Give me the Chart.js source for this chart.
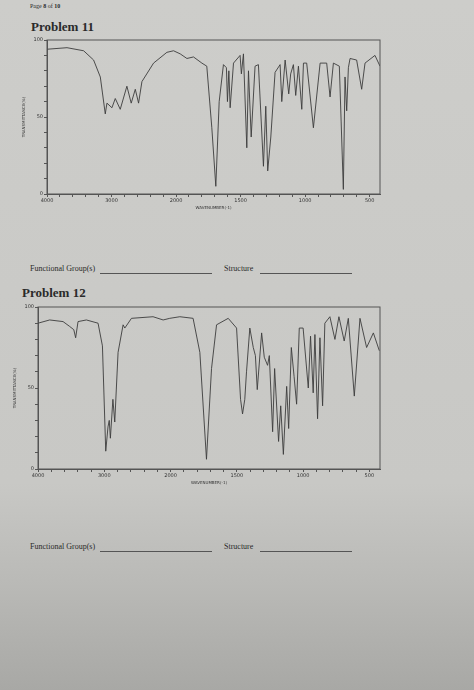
<!DOCTYPE html>
<html>
<head>
<meta charset="utf-8">
<script src="https://cdn.jsdelivr.net/npm/chart.js@4.4.0/dist/chart.umd.min.js"></script>
<style>
  body { margin:0; width:474px; height:690px; overflow:hidden; position:relative;
    background: linear-gradient(180deg, #cdcdca 0%, #c8c8c5 70%, #b9b9b6 85%, #a8a8a5 100%);
    font-family: "Liberation Serif", serif; color:#2a2a2a; }
  .t { position:absolute; white-space:nowrap; }
  .box { position:absolute; }
  .line { position:absolute; border-bottom:1px solid #555; height:0; }
</style>
</head>
<body>
<div class="t" style="left:30px;top:3px;font-size:6px;">Page <b>8</b> of <b>10</b></div>
<div class="t" style="left:31px;top:19px;font-size:13px;font-weight:bold;">Problem 11</div>
<div class="box" style="left:22px;top:30px;width:363px;height:180px;"><canvas id="c1"></canvas></div>
<div class="t" style="left:30px;top:264px;font-size:8px;">Functional Group(s)</div>
<div class="line" style="left:100px;top:273px;width:112px;"></div>
<div class="t" style="left:224px;top:264px;font-size:8px;">Structure</div>
<div class="line" style="left:260px;top:273px;width:92px;"></div>

<div class="t" style="left:22px;top:285px;font-size:13px;font-weight:bold;">Problem 12</div>
<div class="box" style="left:13px;top:297px;width:372px;height:188px;"><canvas id="c2"></canvas></div>
<div class="t" style="left:30px;top:542px;font-size:8px;">Functional Group(s)</div>
<div class="line" style="left:100px;top:551px;width:112px;"></div>
<div class="t" style="left:224px;top:542px;font-size:8px;">Structure</div>
<div class="line" style="left:260px;top:551px;width:92px;"></div>

<script>
// Problem 11 spectrum (wavenumber cm-1, %T)
var wn11 = [4000,3690,3432,3278,3174,3097,3071,2994,2942,2865,2762,2695,2632,2581,2529,2349,2142,2039,1968,1916,1865,1800,1762,1723,1692,1666,1633,1610,1602,1591,1581,1555,1504,1494,1478,1452,1439,1418,1388,1362,1323,1305,1290,1266,1233,1194,1181,1155,1127,1112,1091,1073,1052,1026,1013,988,936,884,833,807,781,735,704,691,678,665,652,601,562,536,459,420];
var t11  = [94,95,93,87,76,52,59,56,62,55,70,59,68,59,73,85,92,93,91,88,89,85,83,43,5,60,84,82,60,80,56,85,90,78,91,30,80,37,83,84,18,57,15,37,79,84,60,87,65,78,84,64,83,55,85,85,43,85,85,63,85,83,3,76,54,82,88,87,68,85,90,83];
// Problem 12 spectrum
var wn12 = [4000,3824,3622,3522,3460,3432,3396,3270,3094,3028,2978,2944,2925,2908,2870,2842,2792,2716,2690,2590,2264,2112,2012,1930,1830,1779,1729,1691,1653,1565,1502,1472,1457,1440,1427,1402,1376,1360,1346,1313,1293,1268,1255,1230,1215,1185,1169,1149,1124,1109,1089,1068,1049,1029,1000,961,944,924,911,891,873,853,836,798,760,730,690,659,614,571,521,470,425];
var t12  = [90,92,91,88,86,81,91,92,90,76,11,26,30,19,43,29,72,89,87,93,94,92,93,94,93,72,6,62,89,93,87,43,34,43,60,87,75,70,49,84,69,64,70,23,62,17,39,9,51,25,75,57,40,87,87,50,82,47,83,31,81,39,90,94,80,94,79,93,45,93,75,84,73];
var xTicks = [4000,3000,2000,1500,1000,500];

// SDBS-style axis: 4000-2000 compressed by half
function pos(w) { return w >= 2000 ? (4000 - w) / 2 : 1000 + (2000 - w); }
function wnAt(p) { return p <= 1000 ? 4000 - 2 * p : 2000 - (p - 1000); }

var frame = {
  id: 'frame',
  afterDraw: function(chart) {
    var a = chart.chartArea, c = chart.ctx;
    c.save(); c.strokeStyle = '#555'; c.lineWidth = 1;
    c.strokeRect(a.left, a.top, a.right - a.left, a.bottom - a.top);
    c.restore();
  }
};

function makeChart(id, wn, t, padTop, yW) {
  var pts = wn.map(function(w, i) { return { x: pos(w), y: t[i] }; });
  new Chart(document.getElementById(id), {
    type: 'line',
    data: { datasets: [{ data: pts, borderColor: '#3c3c3c', borderWidth: 0.9, pointRadius: 0, tension: 0, fill: false }] },
    plugins: [frame],
    options: {
      responsive: true, maintainAspectRatio: false, animation: false,
      layout: { padding: { top: padTop, right: 5, left: 0, bottom: 0 } },
      plugins: { legend: { display: false }, tooltip: { enabled: false } },
      scales: {
        x: {
          type: 'linear', min: 0, max: 2580,
          afterBuildTicks: function(s) {
            var ticks = [];
            for (var p = 0; p <= 2580; p += 100) ticks.push({ value: p });
            s.ticks = ticks;
          },
          afterFit: function(s) { s.height = 16; },
          grid: { drawOnChartArea: false, tickLength: 3, color: '#555' },
          border: { color: '#555' },
          ticks: {
            autoSkip: false, maxRotation: 0, color: '#333', font: { size: 5, family: 'DejaVu Sans' }, padding: 1,
            callback: function(v) { var w = Math.round(wnAt(v)); return xTicks.indexOf(w) >= 0 ? String(w) : ''; }
          },
          title: { display: true, text: 'WAVENUMBER(-1)', color: '#333', font: { size: 4, family: 'DejaVu Sans' }, padding: 0 }
        },
        y: {
          min: 0, max: 100,
          afterFit: function(s) { s.width = yW; },
          grid: { drawOnChartArea: false, tickLength: 3, color: '#555' },
          border: { color: '#555' },
          ticks: { stepSize: 10, color: '#333', font: { size: 5, family: 'DejaVu Sans' }, padding: 1,
            callback: function(v) { return (v === 0 || v === 50 || v === 100) ? String(v) : ''; } },
          title: { display: true, text: 'TRANSMITTANCE(%)', color: '#333', font: { size: 4, family: 'DejaVu Sans' }, padding: 0 }
        }
      }
    }
  });
}

makeChart('c1', wn11, t11, 10, 25);
makeChart('c2', wn12, t12, 10, 25);
</script>
</body>
</html>
